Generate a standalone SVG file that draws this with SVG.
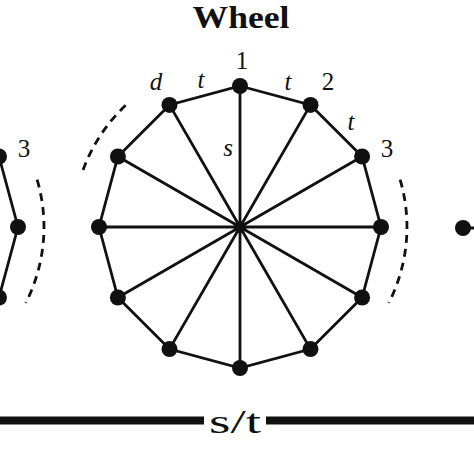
<svg xmlns="http://www.w3.org/2000/svg" width="474" height="474" viewBox="0 0 474 474">
<style>
.e{stroke:#111;stroke-width:2.8;fill:none;stroke-linecap:round}
.d{stroke:#111;stroke-width:2.8;fill:none;stroke-dasharray:8 6}
.n{fill:#111}
.f{font-family:'Liberation Serif','DejaVu Serif','Times New Roman',serif;fill:#111;text-anchor:middle}
.lab{font-size:25px}
.it{font-style:italic}
</style>
<rect width="474" height="474" fill="#fff"/>
<text class="f" x="241" y="28" font-weight="bold" font-size="32" textLength="97" lengthAdjust="spacingAndGlyphs">Wheel</text>
<g id="connectors">
<polygon class="e" points="240,86 310.5,104.9 362.1,156.5 381,227 362.1,297.5 310.5,349.1 240,368 169.5,349.1 117.9,297.5 99,227 117.9,156.5 169.5,104.9"/>
<path class="e" d="M240,227L240,86M240,227L310.5,104.9M240,227L362.1,156.5M240,227L381,227M240,227L362.1,297.5M240,227L310.5,349.1M240,227L240,368M240,227L169.5,349.1M240,227L117.9,297.5M240,227L99,227M240,227L117.9,156.5M240,227L169.5,104.9"/>
<path class="e" d="M-1,156.5L18,227L-1,297.5"/>
<path class="e" d="M463,228L476,228"/>
<path class="d" d="M400.1,179.6A167,167 0 0 1 388.8,302.8"/>
<path class="d" d="M37.1,179.6A167,167 0 0 1 25.8,302.8"/>
<path class="d" d="M83.1,169.9A167,167 0 0 1 126.1,104.9"/>
<path d="M0,420.5H204M266,420.5H474" stroke="#111" stroke-width="8"/>
</g>
<g id="hub"><circle class="n" cx="240" cy="227" r="6"/></g>
<g id="rim">
<circle id="n0" class="n" cx="240" cy="86" r="8"/>
<circle id="n1" class="n" cx="310.5" cy="104.9" r="8"/>
<circle id="n2" class="n" cx="362.1" cy="156.5" r="8"/>
<circle id="n3" class="n" cx="381" cy="227" r="8"/>
<circle id="n4" class="n" cx="362.1" cy="297.5" r="8"/>
<circle id="n5" class="n" cx="310.5" cy="349.1" r="8"/>
<circle id="n6" class="n" cx="240" cy="368" r="8"/>
<circle id="n7" class="n" cx="169.5" cy="349.1" r="8"/>
<circle id="n8" class="n" cx="117.9" cy="297.5" r="8"/>
<circle id="n9" class="n" cx="99" cy="227" r="8"/>
<circle id="n10" class="n" cx="117.9" cy="156.5" r="8"/>
<circle id="n11" class="n" cx="169.5" cy="104.9" r="8"/>
</g>
<g id="left-wheel">
<circle class="n" cx="-1" cy="156.5" r="8"/>
<circle class="n" cx="18" cy="227" r="8"/>
<circle class="n" cx="-1" cy="297.5" r="8"/>
</g>
<g id="right-wheel"><circle class="n" cx="463" cy="228" r="8"/></g>
<g id="labels">
<text class="f lab" x="242" y="69">1</text>
<text class="f lab it" x="156" y="90">d</text>
<text class="f lab it" x="201" y="88">t</text>
<text class="f lab it" x="288" y="90">t</text>
<text class="f lab" x="328" y="90">2</text>
<text class="f lab it" x="351" y="130">t</text>
<text class="f lab" x="387" y="157">3</text>
<text class="f lab it" x="228" y="156">s</text>
<text class="f lab" x="24" y="157">3</text>
<text class="f" x="235" y="433" font-size="33" textLength="52" lengthAdjust="spacingAndGlyphs">s/t</text>
</g>
</svg>
